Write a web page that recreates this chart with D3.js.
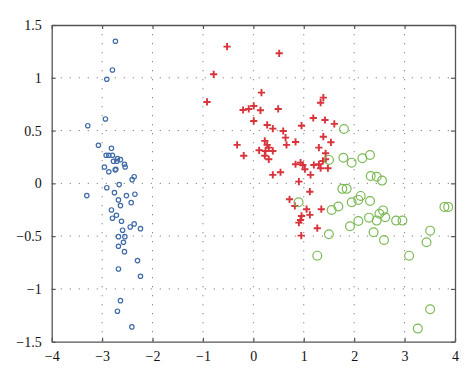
<!DOCTYPE html>
<html>
<head>
<meta charset="utf-8">
<script src="https://cdn.jsdelivr.net/npm/d3@7"></script>
<style>
  html, body { margin: 0; padding: 0; background: #fff; }
  svg { display: block; }
  .tick text { font-family: "Liberation Serif", "DejaVu Serif", serif; font-size: 14px; fill: #111; }
</style>
</head>
<body>
<svg id="chart" width="474" height="381"></svg>
<script>
// ---- data ----
const xTicks = [-4, -3, -2, -1, 0, 1, 2, 3, 4];
const yTicks = [-1.5, -1, -0.5, 0, 0.5, 1, 1.5];

const blueSeries = [
  [-2.736,1.346],[-2.795,1.074],[-2.907,0.986],[-2.934,0.610],[-3.284,0.546],[-3.073,0.361],
  [-2.815,0.332],[-2.92,0.266],[-2.867,0.266],[-2.795,0.266],[-2.696,0.234],[-2.636,0.225],
  [-2.775,0.209],[-2.708,0.209],[-2.557,0.181],[-2.543,0.155],[-2.954,0.155],[-2.728,0.133],
  [-2.74,0.128],[-2.867,0.110],[-2.364,0.063],[-2.404,0.035],[-2.662,-0.012],[-2.907,-0.041],
  [-3.304,-0.116],[-2.755,-0.088],[-2.517,-0.116],[-2.35,-0.103],[-2.676,-0.157],[-2.423,-0.183],
  [-2.636,-0.211],[-2.815,-0.252],[-2.716,-0.302],[-2.795,-0.330],[-2.616,-0.359],[-2.364,-0.384],
  [-2.443,-0.413],[-2.239,-0.429],[-2.594,-0.444],[-2.676,-0.505],[-2.549,-0.505],[-2.577,-0.558],
  [-2.676,-0.596],[-2.557,-0.647],[-2.298,-0.732],[-2.676,-0.811],[-2.239,-0.880],[-2.636,-1.111],
  [-2.696,-1.211],[-2.410,-1.360]
];

const redSeries = [
  [-0.521,1.295],[0.513,1.232],[-0.787,1.033],[-0.919,0.771],[0.161,0.859],[-0.203,0.695],
  [-0.091,0.705],[0.008,0.733],[0.141,0.692],[0.493,0.705],[0.008,0.591],[0.274,0.553],
  [0.386,0.518],[0.592,0.496],[0.638,0.433],[0.956,0.546],[1.189,0.619],[1.334,0.764],
  [1.388,0.812],[1.42,0.600],[1.606,0.563],[1.388,0.442],[0.227,0.402],[0.837,0.392],
  [1.539,0.389],[-0.322,0.364],[0.274,0.364],[0.306,0.338],[0.115,0.313],[0.241,0.307],
  [0.386,0.307],[0.658,0.364],[1.30,0.338],[-0.191,0.262],[0.227,0.262],[1.433,0.285],
  [0.306,0.228],[1.433,0.228],[1.38,0.212],[0.837,0.181],[0.936,0.196],[0.982,0.174],
  [1.20,0.174],[1.30,0.181],[1.022,0.134],[1.334,0.143],[1.479,0.143],[0.386,0.080],
  [0.539,0.105],[1.135,0.080],[0.903,0.016],[1.121,-0.079],[0.718,-0.151],[0.823,-0.214],
  [1.056,-0.245],[1.348,-0.245],[0.956,-0.309],[1.121,-0.299],[0.936,-0.347],[0.903,-0.372],
  [1.268,-0.425],[0.950,-0.495]
];

const greenSeries = [
  [1.797,0.515],[1.50,0.222],[1.785,0.243],[1.950,0.196],[2.163,0.238],[2.314,0.269],
  [2.328,0.070],[2.447,0.063],[2.553,0.026],[1.765,-0.052],[1.851,-0.052],[2.129,-0.119],
  [2.083,-0.157],[1.950,-0.179],[2.314,-0.167],[0.897,-0.179],[1.553,-0.252],[1.686,-0.220],
  [2.294,-0.325],[2.447,-0.353],[2.083,-0.356],[1.917,-0.406],[2.385,-0.463],[1.499,-0.482],
  [1.268,-0.685],[3.79,-0.223],[3.865,-0.223],[2.573,-0.256],[2.50,-0.288],[2.616,-0.321],
  [2.832,-0.353],[2.958,-0.353],[2.592,-0.536],[3.507,-0.448],[3.435,-0.558],[3.09,-0.685],
  [3.507,-1.192],[3.262,-1.376]
];

// ---- layout ----
const svg = d3.select("#chart");
const mLeft = 51.7, mRight = 455, mTop = 25, mBottom = 341.7;

const x = d3.scaleLinear().domain([-4, 4]).range([mLeft, mRight]);
const y = d3.scaleLinear().domain([-1.5, 1.5]).range([mBottom, mTop]);

const fmt = d => d3.format("")(d).replace("-", "\u2212");

// grid (dotted)
const grid = svg.append("g");
grid.selectAll("line.gx").data(xTicks.slice(1, -1)).join("line")
  .attr("class", "gx")
  .attr("x1", d => x(d)).attr("x2", d => x(d))
  .attr("y1", mTop).attr("y2", mBottom)
  .attr("stroke", "#8a8a8a").attr("stroke-width", 1)
  .attr("stroke-dasharray", "1.3,7.7");
grid.selectAll("line.gy").data(yTicks.slice(1, -1)).join("line")
  .attr("class", "gy")
  .attr("y1", d => y(d)).attr("y2", d => y(d))
  .attr("x1", mLeft).attr("x2", mRight)
  .attr("stroke", "#8a8a8a").attr("stroke-width", 1)
  .attr("stroke-dasharray", "1.3,7.7");

// axes
const axisColor = "#555";
function styleAxis(g) {
  g.select(".domain").attr("stroke", axisColor).attr("stroke-width", 1.3);
  g.selectAll(".tick line").attr("stroke", axisColor).attr("stroke-width", 1.2);
}

svg.append("g").attr("transform", `translate(0,${mBottom})`)
  .call(d3.axisBottom(x).tickValues(xTicks).tickSizeInner(-4).tickSizeOuter(0).tickPadding(9).tickFormat(fmt))
  .call(styleAxis);
svg.append("g").attr("transform", `translate(${mLeft},0)`)
  .call(d3.axisLeft(y).tickValues(yTicks).tickSizeInner(-4).tickSizeOuter(0).tickPadding(10).tickFormat(fmt))
  .call(styleAxis);
svg.append("g").attr("transform", `translate(0,${mTop})`)
  .call(d3.axisTop(x).tickValues(xTicks).tickSizeInner(-4).tickSizeOuter(0).tickFormat(""))
  .call(styleAxis);
svg.append("g").attr("transform", `translate(${mRight},0)`)
  .call(d3.axisRight(y).tickValues(yTicks).tickSizeInner(-4).tickSizeOuter(0).tickFormat(""))
  .call(styleAxis);

// markers
svg.append("g").selectAll("circle").data(blueSeries).join("circle")
  .attr("cx", d => x(d[0])).attr("cy", d => y(d[1])).attr("r", 2.2)
  .attr("fill", "none").attr("stroke", "#3e6aa6").attr("stroke-width", 1.2);

const plusSize = 3.6;
const reds = svg.append("g").attr("stroke", "#d8343c").attr("stroke-width", 1.9);
reds.selectAll("path").data(redSeries).join("path")
  .attr("d", d => {
    const cx = x(d[0]), cy = y(d[1]);
    return `M${cx - plusSize},${cy}H${cx + plusSize}M${cx},${cy - plusSize}V${cy + plusSize}`;
  });

svg.append("g").selectAll("circle").data(greenSeries).join("circle")
  .attr("cx", d => x(d[0])).attr("cy", d => y(d[1])).attr("r", 4.4)
  .attr("fill", "none").attr("stroke", "#7cb955").attr("stroke-width", 1.2);
</script>
</body>
</html>
